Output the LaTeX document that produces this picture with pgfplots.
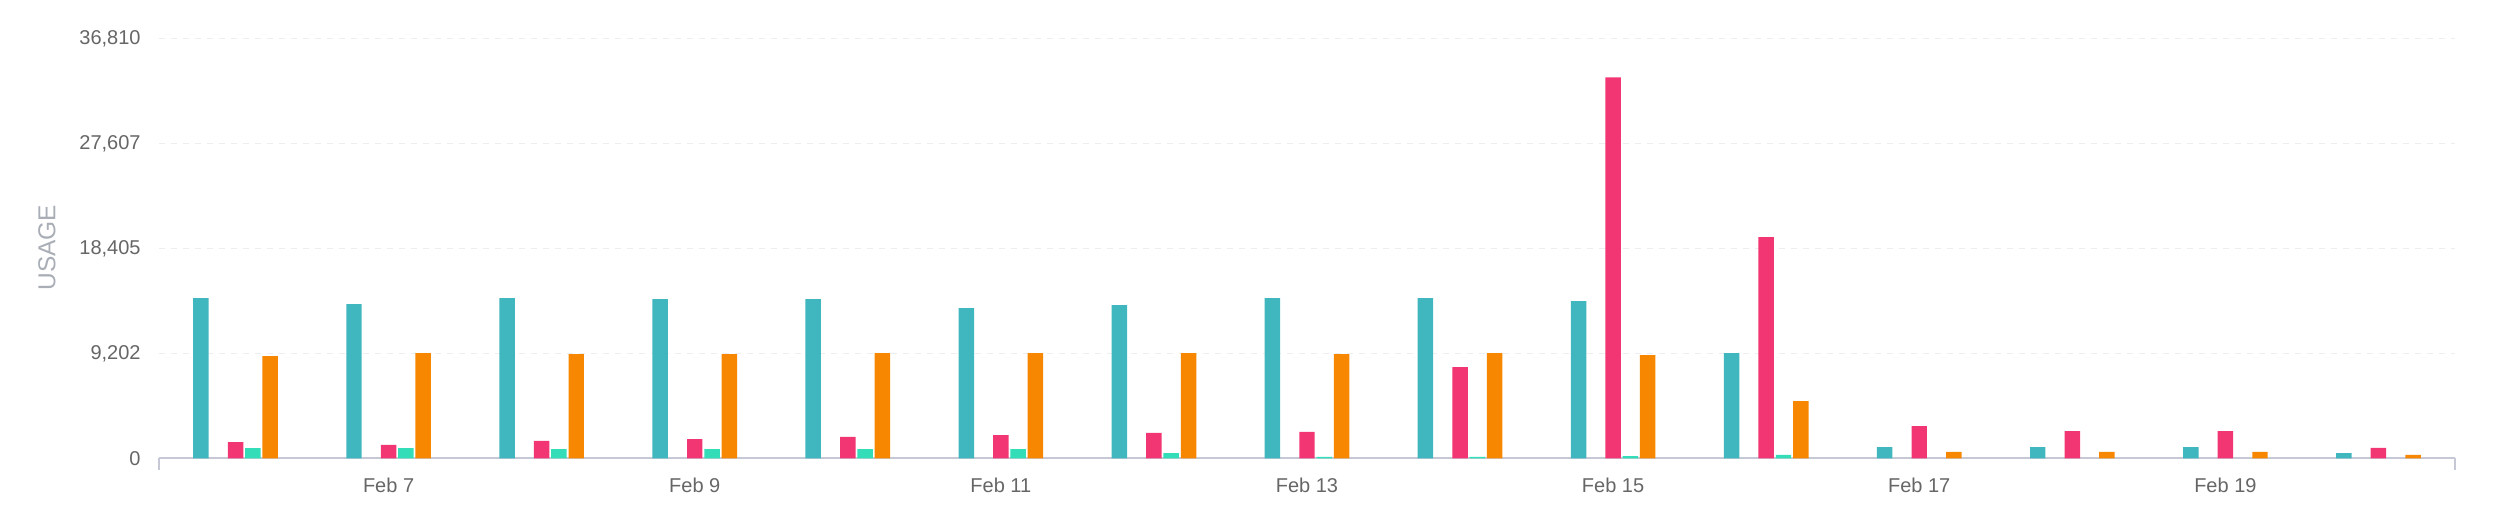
\documentclass[border=0pt]{standalone}
\usepackage{fontspec}
\setmainfont{Liberation Sans}
\usepackage{pgfplots}
\pgfplotsset{compat=1.18}

\definecolor{cteal}{HTML}{40B6BE}
\definecolor{cpink}{HTML}{F23673}
\definecolor{cgreen}{HTML}{33DDB8}
\definecolor{corange}{HTML}{F78700}
\definecolor{gridc}{HTML}{ECEEF1}
\definecolor{axisc}{HTML}{C6C9D5}
\definecolor{tickc}{HTML}{666666}
\definecolor{labc}{HTML}{A9AEB6}

\begin{document}
\begin{tikzpicture}
\useasboundingbox (0,0) rectangle (1260pt,260pt);
\begin{axis}[
  at={(79.5pt,30.85pt)}, anchor=south west,
  scale only axis, width=1148pt, height=209.8pt,
  xmin=-0.5, xmax=14.5, ymin=0, ymax=36810,
  axis x line=bottom, axis y line*=left,
  axis line style={-},
  x axis line style={draw=axisc, line width=1pt},
  y axis line style={draw=none},
  ybar, bar width=0.101,
  major tick length=0pt,
  scaled y ticks=false,
  ymajorgrids,
  grid style={draw=gridc, line width=0.75pt, dash pattern=on 3pt off 3pt},
  ytick={0,9202.5,18405,27607.5,36810},
  yticklabels={0,{9,202},{18,405},{27,607},{36,810}},
  xtick={1,3,5,7,9,11,13},
  xticklabels={Feb 7,Feb 9,Feb 11,Feb 13,Feb 15,Feb 17,Feb 19},
  extra x ticks={-0.5,14.5},
  extra x tick labels={},
  extra x tick style={major tick length=6pt, tick align=outside,
    grid=none, tick style={draw=axisc, line width=1pt}},
  /pgf/number format/assume math mode=true,
  yticklabel style={font=\fontsize{10}{12}\selectfont, text=tickc, anchor=east, inner sep=0pt, xshift=-9pt},
  xticklabel style={font=\fontsize{10}{12}\selectfont, text=tickc, anchor=north, inner sep=0pt, yshift=-9.5pt},
  ylabel={USAGE},
  ylabel style={font=\fontsize{12.25}{14}\selectfont, text=labc,
    at={(axis description cs:-0.0488,0.502)}, anchor=center},
  every axis plot/.append style={draw=none},
]
\addplot[fill=cteal, bar shift=-0.226] coordinates {
(0,14050) (1,13520) (2,14050) (3,13960) (4,13960) (5,13170) (6,13440) (7,14050)
(8,14050) (9,13790) (10,9230) (11,990) (12,990) (13,990) (14,465)};
\addplot[fill=cpink, bar shift=0] coordinates {
(0,1430) (1,1170) (2,1520) (3,1690) (4,1870) (5,2040) (6,2220) (7,2310)
(8,8000) (9,33420) (10,19400) (11,2830) (12,2390) (13,2390) (14,905)};
\addplot[fill=cgreen, bar shift=0.113] coordinates {
(0,900) (1,900) (2,815) (3,815) (4,815) (5,815) (6,465) (7,115)
(8,115) (9,200) (10,290)};
\addplot[fill=corange, bar shift=0.226] coordinates {
(0,8970) (1,9230) (2,9140) (3,9140) (4,9230) (5,9230) (6,9230) (7,9140)
(8,9230) (9,9050) (10,5020) (11,555) (12,555) (13,555) (14,290)};
\end{axis}
\end{tikzpicture}
\end{document}
